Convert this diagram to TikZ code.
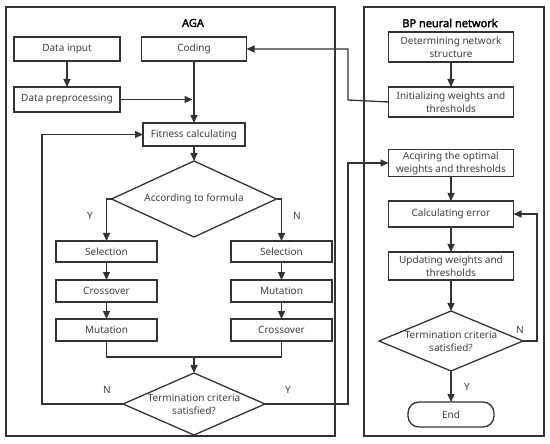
\documentclass[tikz,border=0pt]{standalone}
\usepackage{fontspec}
\setmainfont{Noto Sans}[AutoFakeBold=2.5]
\usetikzlibrary{arrows.meta,shapes.geometric,calc}
\definecolor{ln}{HTML}{333333}
\definecolor{tx}{HTML}{404040}
\begin{document}
\begin{tikzpicture}[x=1pt,y=-1pt,
  every node/.style={inner sep=0pt,outer sep=0pt},
  box/.style={draw=ln,line width=1.3pt,rectangle,align=center,text=tx,
    font=\fontsize{10}{13}\selectfont},
  dia/.style={draw=ln,line width=1.3pt,diamond},
  lbl/.style={text=tx,font=\fontsize{10}{13}\selectfont,align=center},
  ttl/.style={font=\fontsize{11}{13}\selectfont\bfseries,text=black},
  con/.style={draw=ln,line width=1.3pt},
  arr/.style={con,-{Triangle[length=8pt,width=7pt]}}]
\useasboundingbox (0,0) rectangle (550,444);
\draw[con] (6,7) rectangle (335,436);
\draw[con] (364,7) rectangle (544,436);
\node[ttl] (t1) at (193,23) {AGA};
\node[ttl] (t2) at (450,23) {BP neural network};
% AGA nodes
\node[box,minimum width=106pt,minimum height=24pt] (din) at (67,49) {Data input};
\node[box,minimum width=105pt,minimum height=24pt] (cod) at (194,49) {Coding};
\node[box,minimum width=106pt,minimum height=25pt] (pre) at (67,99.5) {Data preprocessing};
\node[box,minimum width=102pt,minimum height=23pt] (fit) at (194,134.5) {Fitness calculating};
\node[dia,minimum width=165pt,minimum height=76pt] (frm) at (194,199) {};
\node[lbl] (frmt) at (194,199) {According to formula};
\node[box,minimum width=101pt,minimum height=21pt] (selL) at (106.5,251.5) {Selection};
\node[box,minimum width=101pt,minimum height=22pt] (crsL) at (106.5,291) {Crossover};
\node[box,minimum width=101pt,minimum height=22pt] (mutL) at (106.5,330) {Mutation};
\node[box,minimum width=101pt,minimum height=21pt] (selR) at (281.5,251.5) {Selection};
\node[box,minimum width=101pt,minimum height=22pt] (mutR) at (281.5,291) {Mutation};
\node[box,minimum width=101pt,minimum height=22pt] (crsR) at (281.5,330) {Crossover};
\node[dia,minimum width=142pt,minimum height=62pt] (tm1) at (194,404) {};
\node[lbl] (tm1t) at (194,404) {Termination criteria\\satisfied?};
% BP nodes
\node[box,minimum width=125pt,minimum height=30pt] (det) at (451,47) {Determining network\\structure};
\node[box,minimum width=125pt,minimum height=30pt] (ini) at (451,102) {Initializing weights and\\thresholds};
\node[box,minimum width=125pt,minimum height=27pt] (acq) at (451,163) {Acqiring the optimal\\weights and thresholds};
\node[box,minimum width=125pt,minimum height=26pt] (cal) at (451,214) {Calculating error};
\node[box,minimum width=125pt,minimum height=28pt] (upd) at (451,266) {Updating weights and\\thresholds};
\node[dia,minimum width=144pt,minimum height=60pt] (tm2) at (451,341) {};
\node[lbl] (tm2t) at (451,341) {Termination criteria\\satisfied?};
\node[box,rounded corners=11pt,minimum width=86pt,minimum height=25pt] (end) at (451,414.5) {End};
% coordinates
\coordinate (cA) at (348,100);
\coordinate (cB) at (348,404);
\coordinate (cC) at (42,404);
\coordinate (cD) at (537,341);
\coordinate (mg) at (194,357);
% AGA connectors
\draw[arr] (din) -- (pre);
\draw[arr] (cod) -- (fit);
\draw[arr] (pre.east) -- ($(cod.south |- pre.east)+(-1.5,0)$);
\draw[arr] (fit) -- (frm);
\draw[arr] (frm.west) -| (selL.north);
\draw[arr] (frm.east) -| (selR.north);
\draw[arr] (selL) -- (crsL);
\draw[arr] (crsL) -- (mutL);
\draw[arr] (selR) -- (mutR);
\draw[arr] (mutR) -- (crsR);
\draw[con] (mutL.south) |- (mg) -| (crsR.south);
\draw[arr] (mg) -- (tm1.north);
\draw[arr] (tm1.west) -- (cC) |- (fit.west);
\draw[arr] (tm1.east) -- (cB) |- (acq.west);
\draw[arr] (ini.west) -- (cA) |- (cod.east);
% BP connectors
\draw[arr] (det) -- (ini);
\draw[arr] (acq) -- (cal);
\draw[arr] (cal) -- (upd);
\draw[arr] (upd) -- (tm2.north);
\draw[arr] (tm2.east) -- (cD) |- (cal.east);
\draw[arr] (tm2.south) -- (end);
% labels
\node[lbl] (ly1) at (90,216) {Y};
\node[lbl] (ln1) at (297,216) {N};
\node[lbl] (ln2) at (107,390) {N};
\node[lbl] (ly2) at (288,390) {Y};
\node[lbl] (ln3) at (520,330) {N};
\node[lbl] (ly3) at (467,387) {Y};
\end{tikzpicture}
\end{document}
